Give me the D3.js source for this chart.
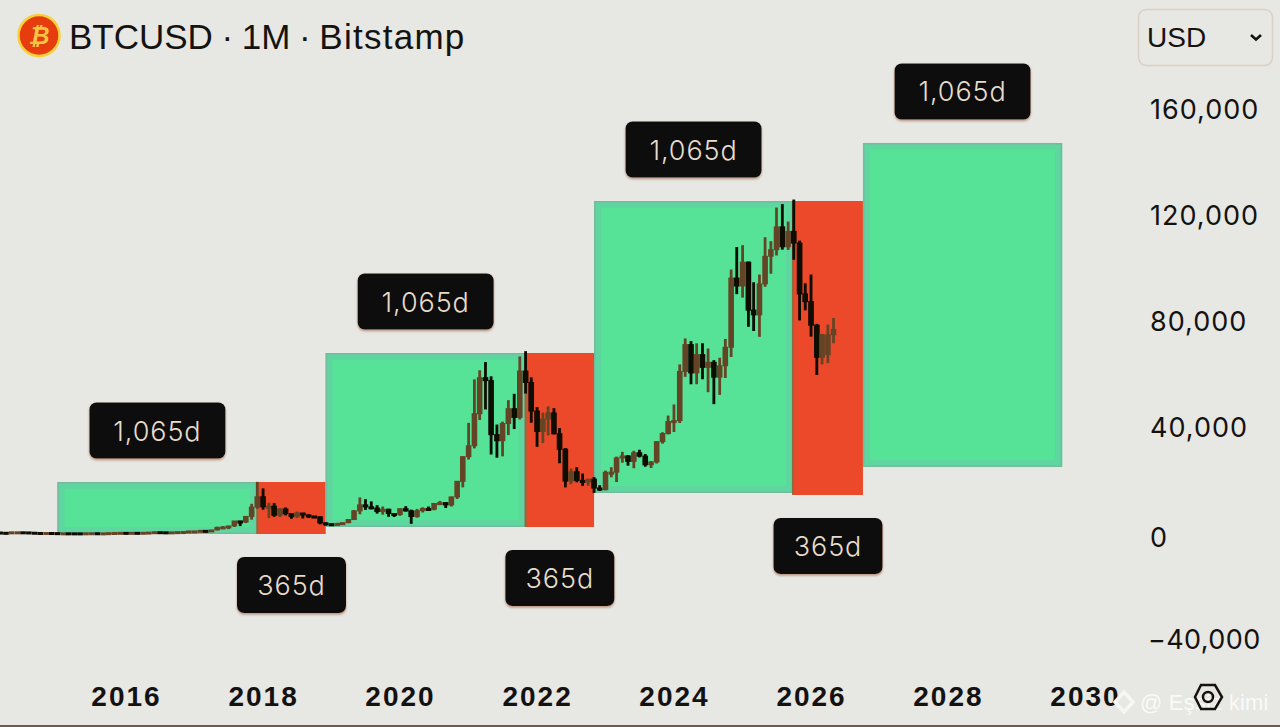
<!DOCTYPE html>
<html><head><meta charset="utf-8">
<script src="https://cdn.jsdelivr.net/npm/d3@7/dist/d3.min.js"></script>
<style>html,body{margin:0;padding:0;background:#e7e7e3;overflow:hidden}svg{display:block}</style>
</head><body><svg id="c" width="1280" height="727"></svg>
<script>
const startMonth = "2014-03";
const opens = [550,450,445,630,640,590,480,385,340,375,
320,220,255,245,235,230,265,285,230,237,315,378,
430,370,437,415,450,530,675,625,575,610,700,745,
965,970,1190,1080,1350,2300,2480,2870,4730,4340,6440,9950,
13850,10100,10300,6920,9240,7490,6390,7730,7010,6600,6300,4020,
3690,3430,3810,4100,5280,8550,10800,10080,9600,8290,9150,7540,
7190,9350,8530,6410,8620,9450,9140,11340,11650,10780,13800,19700,
29000,33100,45200,58800,57700,37300,35000,41500,47100,43800,61300,57000,
46200,38500,43200,45500,37650,31800,19800,23300,20050,19400,20500,17150,
16550,23100,23150,28500,29250,27200,30450,29200,25950,27000,34650,37700,
42250,42600,61150,71300,60600,67500,62700,64600,59000,63300,70300,96400,
93400,102400,84300,82500,94200,104600,107100,115700,108200,114000,109600,90400,
87500,78600,66500,67500,75000];
const highs = [700,540,630,680,660,600,490,415,460,385,
320,265,300,260,245,270,315,285,250,335,500,465,
460,450,440,470,550,780,680,625,610,735,755,980,
1150,1210,1290,1350,2760,2980,2910,4760,4980,6470,11400,19666,
17200,11780,11700,9760,10000,7770,8450,7750,7410,6780,6600,4370,
4070,4200,4100,5640,9070,13800,13150,12300,10900,10370,9530,7750,
9580,10500,9200,9450,10070,10380,11440,12480,12070,14100,19480,29300,
41950,58350,61780,64900,59500,41300,42400,50500,52900,67000,69000,59100,
47900,45800,48200,47500,40000,32400,24700,25200,22800,20500,21450,18400,
23900,25200,29200,31000,29800,31400,31800,30200,27500,35000,38400,44700,
48900,64000,73800,72800,71950,72000,70000,65600,66500,73600,99800,108300,
109000,102800,95000,97900,112000,110500,123200,124500,117900,126200,110700,94600,
97900,79300,75500,79000,81500];
const lows = [420,340,420,530,560,450,350,275,320,300,
150,210,235,215,225,220,255,200,225,235,300,350,
350,365,390,415,440,520,600,465,570,605,690,740,
750,945,890,1080,1350,2070,1830,2670,2970,4110,5400,9500,
9200,6000,6500,6430,7030,5750,6070,5880,6100,6200,3650,3130,
3350,3390,3700,4100,5270,7450,9100,9320,7710,7300,6500,6430,
6850,8450,3850,6150,8110,8900,8950,11110,9820,10370,13200,17600,
28100,32300,43000,47000,30000,28800,29300,37300,39600,43200,53000,42000,
32900,34300,37200,37600,26700,17600,18800,19500,18150,18200,15500,16300,
16500,21400,19600,26900,25800,24800,28900,25400,24900,26600,34100,37600,
38500,41900,59300,56500,56500,58400,53500,49000,52500,58900,66800,90500,
89200,78200,76600,74400,93300,98200,105100,107300,107200,103500,80600,84400,
74500,60000,64000,64500,72000];
const closes = [450,445,630,640,590,480,385,340,375,320,
220,255,245,235,230,265,285,230,237,315,378,430,
370,437,415,450,530,675,625,575,610,700,745,965,
970,1190,1080,1350,2300,2480,2870,4730,4340,6440,9950,13850,
10100,10300,6920,9240,7490,6390,7730,7010,6600,6300,4020,3690,
3430,3810,4100,5280,8550,10800,10080,9600,8290,9150,7540,7190,
9350,8530,6410,8620,9450,9140,11340,11650,10780,13800,19700,29000,
33100,45200,58800,57700,37300,35000,41500,47100,43800,61300,57000,46200,
38500,43200,45500,37650,31800,19800,23300,20050,19400,20500,17150,16550,
23100,23150,28500,29250,27200,30450,29200,25950,27000,34650,37700,42250,
42600,61150,71300,60600,67500,62700,64600,59000,63300,70300,96400,93400,
102400,84300,82500,94200,104600,107100,115700,108200,114000,109600,90400,87500,
78600,66500,75000,75000,77000];

const zoneKinds = ["up","down","up","down","up","down","up"];
const zoneStarts = ["2015-01-01","2017-12-01","2018-12-01","2021-11-01","2022-11-01","2025-09-27","2026-10-05"];
const zoneEnds = ["2017-12-01","2018-12-01","2021-11-01","2022-11-01","2025-09-27","2026-10-05","2029-09-01"];
const zoneLows = [0,0,2640,2640,15470,14720,25280];
const zoneHighs = [19620,19620,68300,68300,125660,125660,147550];
const zoneLabels = ["1,065d","365d","1,065d","365d","1,065d","365d","1,065d"];
const yTicks = [160000,120000,80000,40000,0,-40000];
const xYears = [2016,2018,2020,2022,2024,2026,2028,2030];
const titleParts = ["BTCUSD"," · 1M · ","Bitstamp"];
const currency = "USD";
const watermark = "@ Eşsiz kimi";

const FONT = "'Liberation Sans', Arial, sans-serif";
const parseM = d3.timeParse("%Y-%m");
const parseD = d3.timeParse("%Y-%m-%d");
const x = d3.scaleTime().domain([new Date(2016,0,1),new Date(2030,0,1)]).range([126,1085]);
const y = d3.scaleLinear().domain([-40000,160000]).range([640,110]);

const svg = d3.select("#c");
svg.append("rect").attr("width",1280).attr("height",727).attr("fill","#e7e7e3");
const defs = svg.append("defs");
defs.append("filter").attr("id","soft").append("feGaussianBlur").attr("stdDeviation",0.55);
const shadow = defs.append("filter").attr("id","sh").attr("x","-10%").attr("y","-10%").attr("width","120%").attr("height","130%");
shadow.append("feDropShadow").attr("dx",0).attr("dy",1.5).attr("stdDeviation",1).attr("flood-color","#a8765a").attr("flood-opacity",0.8);

// zones
const zones = zoneKinds.map((k,i)=>({k,s:parseD(zoneStarts[i]),e:parseD(zoneEnds[i]),lo:zoneLows[i],hi:zoneHighs[i],label:zoneLabels[i]}));
const zg = svg.append("g").attr("filter","url(#soft)");
zg.selectAll("rect.z").data(zones).join("rect").attr("class","z")
  .attr("x",d=>x(d.s)).attr("y",d=>y(d.hi))
  .attr("width",d=>x(d.e)-x(d.s)).attr("height",d=>y(d.lo)-y(d.hi))
  .attr("fill",d=>d.k==="up"?"#56e398":"#ec4a2b");
const ups = zones.filter(d=>d.k==="up");
zg.selectAll("rect.band").data(ups).join("rect").attr("class","band")
  .attr("x",d=>x(d.s)+3.5).attr("y",d=>y(d.hi)+3.5)
  .attr("width",d=>x(d.e)-x(d.s)-7).attr("height",d=>y(d.lo)-y(d.hi)-7)
  .attr("fill","none").attr("stroke","#5ed6a0").attr("stroke-width",7);
zg.selectAll("rect.edge").data(ups).join("rect").attr("class","edge")
  .attr("x",d=>x(d.s)+0.75).attr("y",d=>y(d.hi)+0.75)
  .attr("width",d=>x(d.e)-x(d.s)-1.5).attr("height",d=>y(d.lo)-y(d.hi)-1.5)
  .attr("fill","none").attr("stroke","#72bb9d").attr("stroke-width",1.5);
zg.selectAll("line.rl").data(zones.filter(d=>d.k==="down")).join("line").attr("class","rl")
  .attr("x1",d=>x(d.s)).attr("x2",d=>x(d.s)).attr("y1",d=>y(d.hi)).attr("y2",d=>y(d.lo))
  .attr("stroke","#8f6a3e").attr("stroke-width",2);

// candles
const months = opens.map((o,i)=>{const d=parseM(startMonth);d.setMonth(d.getMonth()+i);return {d,o,h:highs[i],l:lows[i],c:closes[i]};});
const col = d=>d.c>=d.o?"#644526":"#0b0806";
const cg = svg.append("g").attr("filter","url(#soft)");
cg.selectAll("line").data(months).join("line")
  .attr("x1",d=>x(d.d)).attr("x2",d=>x(d.d)).attr("y1",d=>y(d.h)).attr("y2",d=>y(d.l))
  .attr("stroke",col).attr("stroke-width",2.8);
cg.selectAll("rect").data(months).join("rect")
  .attr("x",d=>x(d.d)-2.8).attr("width",5.6)
  .attr("y",d=>Math.min(y(d.o),y(d.c))-1)
  .attr("height",d=>Math.max(3,Math.abs(y(d.o)-y(d.c))+1))
  .attr("fill",col);

// labels
const lg = svg.append("g").selectAll("g").data(zones).join("g")
  .attr("transform",d=>{
    const cx=(x(d.s)+x(d.e))/2;
    const cy=d.k==="up"?y(d.hi)-51.5:y(d.lo)+51;
    return `translate(${cx},${cy})`;
  });
lg.append("rect").attr("x",d=>d.k==="up"?-68:-54.5).attr("width",d=>d.k==="up"?136:109)
  .attr("y",-28).attr("height",56).attr("rx",7).attr("fill","#0c0907").attr("filter","url(#sh)");
lg.append("text").attr("text-anchor","middle").attr("y",10).attr("fill","#e6dccb")
  .attr("font-family","Inter, "+FONT).attr("font-weight",300).attr("font-size",27).attr("letter-spacing",0.9).text(d=>d.label);

// y axis
const ya = svg.append("g").attr("transform","translate(1150,0)")
  .call(d3.axisRight(y).tickValues(yTicks).tickSize(0).tickPadding(0).tickFormat(d=>d<0?"\u2212"+d3.format(",")(-d):d3.format(",")(d)));
ya.select(".domain").remove();
ya.selectAll("text").attr("font-family","Inter, "+FONT).attr("font-size",27).attr("letter-spacing",d=>d<0?0.4:1).attr("fill","#141210").attr("dy",d=>d===0?"0.45em":"0.32em");
ya.selectAll("text").filter(d=>d<0).attr("x",-2);

// x axis
const xa = svg.append("g").attr("transform","translate(0,684)")
  .call(d3.axisBottom(x).tickValues(xYears.map(v=>new Date(v,0,1))).tickSize(0).tickPadding(0).tickFormat(d3.timeFormat("%Y")));
xa.select(".domain").remove();
xa.selectAll("text").attr("font-family",FONT).attr("font-size",28).attr("font-weight",700).attr("fill","#141210").attr("dy","0.78em").attr("letter-spacing",2);

// header
svg.append("circle").attr("cx",39).attr("cy",35.5).attr("r",20.5).attr("fill","#e63c0e").attr("stroke","#f6d13c").attr("stroke-width",2.5);
svg.append("text").attr("x",39).attr("y",44).attr("text-anchor","middle").attr("font-family",FONT).attr("font-size",24).attr("font-weight",700).attr("font-style","italic").attr("fill","#f6c544").text("\u20BF");
const tt = svg.append("text").attr("x",69).attr("y",49).attr("font-family",FONT).attr("font-size",35).attr("fill","#151310");
tt.selectAll("tspan").data(titleParts).join("tspan").attr("xml:space","preserve").style("white-space","pre")
  .attr("letter-spacing",(d,i)=>i===2?1.25:0).attr("word-spacing",(d,i)=>i===1?-1.1:0).text(d=>d);

// currency
svg.append("rect").attr("x",1138.5).attr("y",9.5).attr("width",134).attr("height",56).attr("rx",8).attr("fill","#e7e7e3").attr("stroke","#dccfc3").attr("stroke-width",1.5);
svg.append("text").attr("x",1147).attr("y",47).attr("font-family",FONT).attr("font-size",28).attr("fill","#151310").text(currency);
svg.append("path").attr("d","M1251 35 L1256 39.5 L1261 35").attr("fill","none").attr("stroke","#151310").attr("stroke-width",2.6);

// footer
svg.append("rect").attr("y",725).attr("width",1280).attr("height",2).attr("fill","#6a5a50");
svg.append("path").attr("d","M1124 692 L1133 702 L1124 712 L1115 702 Z").attr("fill","none").attr("stroke","#f6f6f4").attr("stroke-width",3.5);
svg.append("text").attr("x",1140).attr("y",710).attr("font-family",FONT).attr("font-size",22).attr("fill","#ffffff").attr("fill-opacity",0.8).attr("letter-spacing",0.2).text(watermark);
svg.append("path").attr("d","M1195 697 L1201 685 L1215 685 L1222 697 L1215 709 L1201 709 Z").attr("fill","none").attr("stroke","#151310").attr("stroke-width",2.5);
svg.append("circle").attr("cx",1208).attr("cy",697).attr("r",5).attr("fill","none").attr("stroke","#151310").attr("stroke-width",2.5);
</script></body></html>
